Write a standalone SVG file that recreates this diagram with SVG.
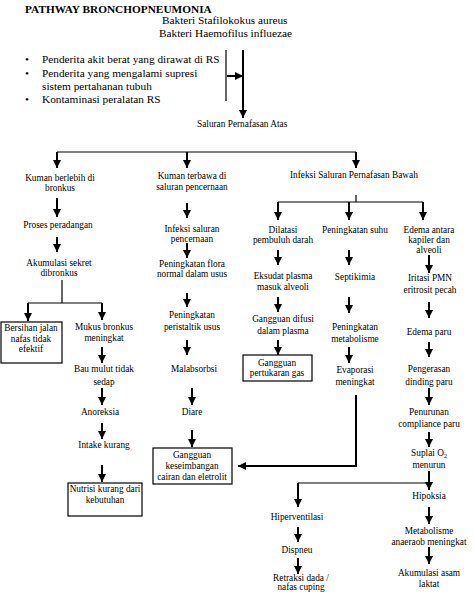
<svg xmlns="http://www.w3.org/2000/svg" width="474" height="592" viewBox="0 0 474 592">
<defs>
<style>
text{font-family:"Liberation Serif","Times New Roman",serif;fill:#000}
.t{font-size:9.3px;text-anchor:middle}
.s{font-size:9.3px}
.h{font-size:11.3px}
.title{font-size:11.3px;font-weight:bold}
.ln{stroke:#000;stroke-width:1.2;fill:none}
.ar{stroke:#000;stroke-width:2;fill:none;marker-end:url(#ah)}
.box{fill:#fff;stroke:#000;stroke-width:1.2}
</style>
<marker id="ah" markerUnits="userSpaceOnUse" markerWidth="8" markerHeight="8" refX="8" refY="4" orient="auto">
<path d="M0,0 L8,4 L0,8 z" fill="#000"/>
</marker>
</defs>
<rect width="474" height="592" fill="#fff"/>

<g id="connectors">
<line class="ln" x1="226" y1="50" x2="226" y2="101"/>
<line class="ar" x1="227" y1="76" x2="243" y2="76"/>
<line class="ar" x1="243" y1="50" x2="243" y2="118"/>
<line class="ln" x1="57" y1="152" x2="356" y2="152"/>
<line class="ar" x1="57" y1="152" x2="57" y2="168"/>
<line class="ar" x1="187" y1="152" x2="187" y2="168"/>
<line class="ar" x1="356" y1="152" x2="356" y2="168"/>
<line class="ar" x1="57" y1="198" x2="57" y2="217"/>
<line class="ar" x1="57" y1="237" x2="57" y2="252"/>
<line class="ln" x1="62" y1="280" x2="62" y2="303"/>
<line class="ln" x1="28" y1="303" x2="102" y2="303"/>
<line class="ar" x1="28" y1="303" x2="28" y2="321"/>
<line class="ar" x1="102" y1="303" x2="102" y2="320"/>
<line class="ar" x1="102" y1="347" x2="102" y2="363"/>
<line class="ar" x1="102" y1="388" x2="102" y2="405"/>
<line class="ar" x1="102" y1="423" x2="102" y2="439"/>
<line class="ar" x1="102" y1="465" x2="102" y2="482"/>
<line class="ar" x1="187" y1="203" x2="187" y2="218"/>
<line class="ar" x1="187" y1="243" x2="187" y2="258"/>
<line class="ar" x1="187" y1="293" x2="187" y2="307"/>
<line class="ar" x1="187" y1="340" x2="187" y2="355"/>
<line class="ar" x1="192" y1="388" x2="192" y2="405"/>
<line class="ar" x1="192" y1="430" x2="192" y2="447"/>
<line class="ln" x1="356" y1="195" x2="356" y2="202"/>
<line class="ln" x1="278" y1="202" x2="423" y2="202"/>
<line class="ar" x1="278" y1="202" x2="278" y2="220"/>
<line class="ar" x1="349" y1="202" x2="349" y2="220"/>
<line class="ar" x1="423" y1="202" x2="423" y2="220"/>
<line class="ar" x1="278" y1="250" x2="278" y2="265"/>
<line class="ar" x1="278" y1="297" x2="278" y2="312"/>
<line class="ar" x1="278" y1="340" x2="278" y2="355"/>
<line class="ar" x1="349" y1="250" x2="349" y2="265"/>
<line class="ar" x1="349" y1="297" x2="349" y2="313"/>
<line class="ar" x1="349" y1="347" x2="349" y2="363"/>
<polyline class="ar" points="356,395 356,466 238,466"/>
<line class="ar" x1="429" y1="255" x2="429" y2="273"/>
<line class="ar" x1="429" y1="302" x2="429" y2="318"/>
<line class="ar" x1="429" y1="342" x2="429" y2="357"/>
<line class="ar" x1="429" y1="388" x2="429" y2="405"/>
<line class="ar" x1="429" y1="432" x2="429" y2="447"/>
<line class="ar" x1="429" y1="471" x2="429" y2="490"/>
<line class="ln" x1="298" y1="483" x2="429" y2="483"/>
<line class="ar" x1="298" y1="483" x2="298" y2="507"/>
<line class="ar" x1="298" y1="527" x2="298" y2="542"/>
<line class="ar" x1="298" y1="558" x2="298" y2="574"/>
<line class="ar" x1="429" y1="507" x2="429" y2="524"/>
<line class="ar" x1="429" y1="547" x2="429" y2="564"/>
</g>

<g id="title"><text class="title" x="25" y="13">PATHWAY BRONCHOPNEUMONIA</text></g>
<g id="bakteri">
<text class="h" x="162" y="24">Bakteri Stafilokokus aureus</text>
<text class="h" x="159" y="37">Bakteri Haemofilus influezae</text>
</g>
<g id="faktor">
<text class="h" x="25" y="63">•</text>
<text class="h" x="42" y="63">Penderita akit berat yang dirawat di RS</text>
<text class="h" x="25" y="77">•</text>
<text class="h" x="42" y="77">Penderita yang mengalami supresi</text>
<text class="h" x="42" y="90">sistem pertahanan tubuh</text>
<text class="h" x="25" y="103">•</text>
<text class="h" x="42" y="103">Kontaminasi peralatan RS</text>
</g>
<g id="saluran-atas"><text class="s" x="197" y="127">Saluran Pernafasan Atas</text></g>

<g id="kuman-bronkus"><text class="t" x="60" y="181">Kuman berlebih di</text><text class="t" x="60" y="191">bronkus</text></g>
<g id="proses-peradangan"><text class="t" x="58" y="228">Proses peradangan</text></g>
<g id="akumulasi-sekret"><text class="t" x="59" y="266">Akumulasi sekret</text><text class="t" x="59" y="276">dibronkus</text></g>
<g id="bersihan-jalan-nafas"><rect class="box" x="1" y="322" width="61" height="41"/><text class="t" x="31" y="331">Bersihan jalan</text><text class="t" x="31" y="342">nafas tidak</text><text class="t" x="31" y="352">efektif</text></g>
<g id="mukus"><text class="t" x="104" y="330">Mukus bronkus</text><text class="t" x="104" y="341">meningkat</text></g>
<g id="bau-mulut"><text class="t" x="104" y="372">Bau mulut tidak</text><text class="t" x="104" y="385">sedap</text></g>
<g id="anoreksia"><text class="t" x="100" y="415">Anoreksia</text></g>
<g id="intake"><text class="t" x="104" y="448">Intake kurang</text></g>
<g id="nutrisi"><rect class="box" x="68" y="483" width="74" height="33"/><text class="t" x="105" y="492">Nutrisi kurang dari</text><text class="t" x="105" y="503">kebutuhan</text></g>

<g id="kuman-pencernaan"><text class="t" x="192" y="179">Kuman terbawa di</text><text class="t" x="192" y="190">saluran pencernaan</text></g>
<g id="infeksi-pencernaan"><text class="t" x="192" y="232">Infeksi saluran</text><text class="t" x="192" y="242">pencernaan</text></g>
<g id="flora"><text class="t" x="192" y="267">Peningkatan flora</text><text class="t" x="192" y="277">normal dalam usus</text></g>
<g id="peristaltik"><text class="t" x="192" y="318">Peningkatan</text><text class="t" x="192" y="330">peristaltik usus</text></g>
<g id="malabsorbsi"><text class="t" x="194" y="372">Malabsorbsi</text></g>
<g id="diare"><text class="t" x="192" y="415">Diare</text></g>
<g id="cairan"><rect class="box" x="153" y="448" width="79" height="36"/><text class="t" x="192" y="458">Gangguan</text><text class="t" x="192" y="469">keseimbangan</text><text class="t" x="192" y="480">cairan dan eletrolit</text></g>

<g id="saluran-bawah"><text class="s" x="290" y="178">Infeksi Saluran Pernafasan Bawah</text></g>
<g id="dilatasi"><text class="t" x="283" y="233">Dilatasi</text><text class="t" x="283" y="243">pembuluh darah</text></g>
<g id="eksudat"><text class="t" x="283" y="279">Eksudat plasma</text><text class="t" x="283" y="290">masuk alveoli</text></g>
<g id="difusi"><text class="t" x="283" y="322">Gangguan difusi</text><text class="t" x="283" y="334">dalam plasma</text></g>
<g id="pertukaran-gas"><rect class="box" x="243" y="355" width="69" height="26"/><text class="t" x="277" y="366">Gangguan</text><text class="t" x="277" y="376">pertukaran gas</text></g>

<g id="suhu"><text class="t" x="355" y="233">Peningkatan suhu</text></g>
<g id="septikimia"><text class="t" x="355" y="280">Septikimia</text></g>
<g id="metabolisme"><text class="t" x="355" y="330">Peningkatan</text><text class="t" x="355" y="342">metabolisme</text></g>
<g id="evaporasi"><text class="t" x="355" y="373">Evaporasi</text><text class="t" x="355" y="385">meningkat</text></g>

<g id="edema-antara"><text class="t" x="429" y="233">Edema antara</text><text class="t" x="429" y="243">kapiler dan</text><text class="t" x="429" y="253">alveoli</text></g>
<g id="iritasi"><text class="t" x="430" y="281">Iritasi PMN</text><text class="t" x="430" y="293">eritrosit pecah</text></g>
<g id="edema-paru"><text class="t" x="429" y="335">Edema paru</text></g>
<g id="pengerasan"><text class="t" x="429" y="372">Pengerasan</text><text class="t" x="429" y="385">dinding paru</text></g>
<g id="compliance"><text class="t" x="429" y="415">Penurunan</text><text class="t" x="429" y="427">compliance paru</text></g>
<g id="suplai"><text class="t" x="429" y="456">Suplai O<tspan font-size="6" dy="2">2</tspan></text><text class="t" x="429" y="468">menurun</text></g>
<g id="hipoksia"><text class="t" x="429" y="499">Hipoksia</text></g>
<g id="metabolisme-anaerob"><text class="t" x="429" y="534">Metabolisme</text><text class="t" x="429" y="545">anaeraob meningkat</text></g>
<g id="asam-laktat"><text class="t" x="429" y="576">Akumulasi asam</text><text class="t" x="429" y="587">laktat</text></g>

<g id="hiperventilasi"><text class="t" x="297" y="520">Hiperventilasi</text></g>
<g id="dispneu"><text class="t" x="297" y="553">Dispneu</text></g>
<g id="retraksi"><text class="t" x="301" y="581">Retraksi dada /</text><text class="t" x="301" y="590">nafas cuping</text></g>
</svg>
